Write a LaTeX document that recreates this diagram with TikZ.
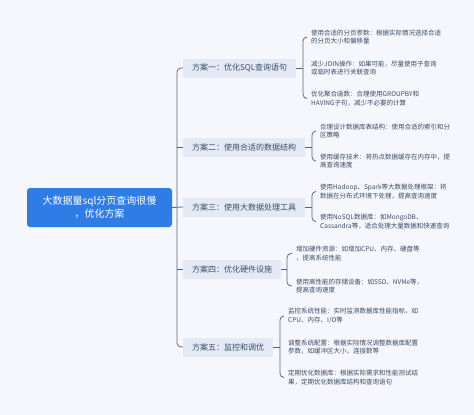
\documentclass[tikz,border=0pt]{standalone}
\usepackage{fontspec}
\setmainfont{Noto Sans CJK SC}
\usetikzlibrary{positioning}
\definecolor{bgc}{HTML}{F5F7FC}
\definecolor{rootc}{HTML}{2F7CE4}
\definecolor{topicfill}{HTML}{E3EAF6}
\definecolor{inkc}{HTML}{3B4A66}
\definecolor{linec}{HTML}{56667F}

\begin{document}
\begin{tikzpicture}[x=1pt,y=-1pt,
  topic/.style={fill=topicfill,text=inkc,font=\fontsize{8}{10}\selectfont,inner xsep=9pt,minimum height=19pt,anchor=west},
  leaf/.style={text=inkc,font=\fontsize{6.5}{8.5}\selectfont,align=left,inner xsep=4pt,inner ysep=1pt,anchor=west},
  link/.style={draw=linec,line width=0.8pt,rounded corners=4pt}]
  \fill[bgc] (0,0) rectangle (474,415);
  % root and first level
  \node[fill=rootc,text=white,rounded corners=3pt,minimum width=145pt,minimum height=39pt,align=center,font=\fontsize{10}{13}\selectfont] (root) at (99.5,207.5) {大数据量sql分页查询很慢\\，优化方案};
  \node[topic] (n1) at (183,68) {方案一：优化SQL查询语句};
  \node[topic] (n2) at (183,147) {方案二：使用合适的数据结构};
  \node[topic] (n3) at (183,207) {方案三：使用大数据处理工具};
  \node[topic] (n4) at (183,269.5) {方案四：优化硬件设施};
  \node[topic] (n5) at (183,347) {方案五：监控和调优};
  \coordinate (trunk) at (177,207);
  \draw[link] (root.east) -- (n3.west);
  \draw[link] (n1.west) -- (n1.west -| trunk) -- (n5.west -| trunk) -- (n5.west);
  \draw[link] (n2.west -| trunk) -- (n2.west);
  \draw[link] (n4.west -| trunk) -- (n4.west);
  % leaves
  \node[leaf] (l11) at (307,37) {使用合适的分页参数：根据实际情况选择合适\\的分页大小和偏移量};
  \node[leaf] (l12) at (307,68) {减少JOIN操作：如果可能，尽量使用子查询\\或临时表进行关联查询};
  \node[leaf] (l13) at (307,98.5) {优化聚合函数：合理使用GROUPBY和\\HAVING子句，减少不必要的计算};
  \node[leaf] (l21) at (316,131) {合理设计数据库表结构：使用合适的索引和分\\区策略};
  \node[leaf] (l22) at (316,161) {使用缓存技术：将热点数据缓存在内存中，提\\高查询速度};
  \node[leaf] (l31) at (316,191.5) {使用Hadoop、Spark等大数据处理框架：将\\数据在分布式环境下处理，提高查询速度};
  \node[leaf] (l32) at (316,221.5) {使用NoSQL数据库：如MongoDB、\\Cassandra等，适合处理大量数据和快速查询};
  \node[leaf] (l41) at (292,253.5) {增加硬件资源：如增加CPU、内存、硬盘等\\，提高系统性能};
  \node[leaf] (l42) at (292,286) {使用高性能的存储设备：如SSD、NVMe等，\\提高查询速度};
  \node[leaf] (l51) at (284,316) {监控系统性能：实时监测数据库性能指标，如\\CPU、内存、I/O等};
  \node[leaf] (l52) at (284,347) {调整系统配置：根据实际情况调整数据库配置\\参数，如缓冲区大小、连接数等};
  \node[leaf] (l53) at (284,377.5) {定期优化数据库：根据实际需求和性能测试结\\果，定期优化数据库结构和查询语句};
  % braces
  \coordinate (b1) at (303,68);
  \coordinate (b2) at (312,147);
  \coordinate (b3) at (312,207);
  \coordinate (b4) at (287,269.5);
  \coordinate (b5) at (280,347);
  \draw[link] (n1.east) -- (b1);
  \draw[link] (l11.west) -- (l11.west -| b1) -- (l13.west -| b1) -- (l13.west);
  \draw[link] (n2.east) -- (b2);
  \draw[link] (l21.west) -- (l21.west -| b2) -- (l22.west -| b2) -- (l22.west);
  \draw[link] (n3.east) -- (b3);
  \draw[link] (l31.west) -- (l31.west -| b3) -- (l32.west -| b3) -- (l32.west);
  \draw[link] (n4.east) -- (b4);
  \draw[link] (l41.west) -- (l41.west -| b4) -- (l42.west -| b4) -- (l42.west);
  \draw[link] (n5.east) -- (b5);
  \draw[link] (l51.west) -- (l51.west -| b5) -- (l53.west -| b5) -- (l53.west);
\end{tikzpicture}
\end{document}
